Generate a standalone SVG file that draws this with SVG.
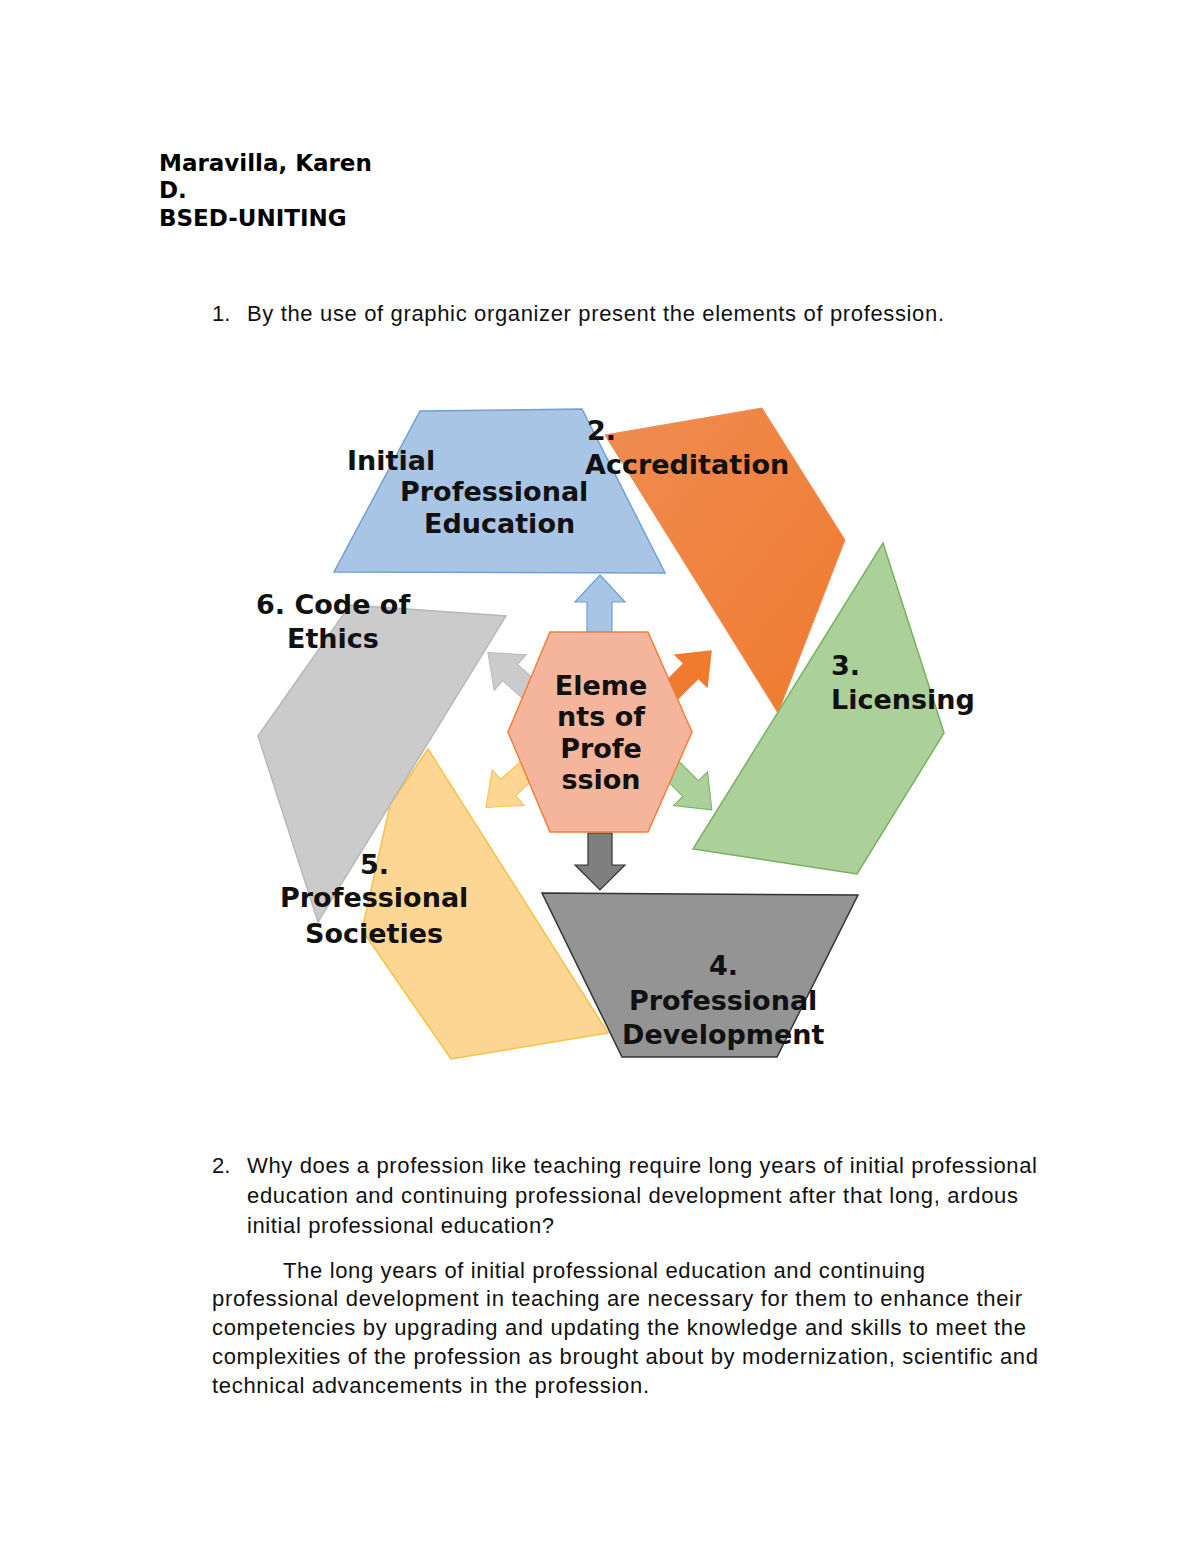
<svg xmlns="http://www.w3.org/2000/svg" width="1200" height="1553" viewBox="0 0 1200 1553">
<defs>
<linearGradient id="og" x1="0" y1="0" x2="1" y2="1"><stop offset="0" stop-color="#ef8c52"/><stop offset="1" stop-color="#f07a2e"/></linearGradient>
</defs>
<style>
.h{font-family:"DejaVu Sans",sans-serif;font-weight:bold;font-size:23px;fill:#000}
.b{font-family:"Liberation Sans",Arial,sans-serif;font-size:22px;fill:#111}
.l{font-family:"DejaVu Sans",sans-serif;font-weight:bold;font-size:27px;fill:#111}
</style>
<rect width="1200" height="1553" fill="#fff"/>
<g id="header">
<text class="h" x="159" y="171">Maravilla, Karen</text>
<text class="h" x="159" y="198">D.</text>
<text class="h" x="159" y="226">BSED-UNITING</text>
<text class="b" x="212" y="321">1.</text>
<text class="b" x="247" y="321" textLength="697">By the use of graphic organizer present the elements of profession.</text>
</g>
<g id="n5"><polygon points="428,749 608,1033 451,1059 362,930 390,805" fill="#fed694" stroke="#f5c242" stroke-width="1.5"/></g>
<g id="n6"><polygon points="350,605 506,616 318,922 258,736" fill="#cbcbcb" stroke="#b8b8b8" stroke-width="1.5"/></g>
<g id="n1"><polygon points="420,411 582,409 665,573 334,572" fill="#a9c5e6" stroke="#6f9fd5" stroke-width="1.5"/></g>
<g id="n2"><polygon points="605,435 762,408 845,540 778,713" fill="url(#og)" stroke="#ef8c52" stroke-width="1"/></g>
<g id="n3"><polygon points="883,543 944,733 857,874 693,849" fill="#acd09a" stroke="#79b060" stroke-width="1.5"/></g>
<g id="n4"><polygon points="542,893 858,895 777,1057 622,1057" fill="#949494" stroke="#333" stroke-width="1.5"/></g>
<g id="connectors">
<polygon points="587,632 587,602 575,602 600,575 625,602 612,602 612,632" fill="#a9c5e6" stroke="#6f9fd5" stroke-width="1.2"/>
<polygon points="588,833 612,833 612,865 625,865 600,890 575,865 588,865" fill="#7f7f7f" stroke="#333" stroke-width="1.2"/>
<g transform="translate(668,694) rotate(-45)"><polygon points="0,-11 32,-11 32,-24 62,0 32,24 32,11 0,11" fill="#f07a2e"/></g>
<g transform="translate(668,766) rotate(45)"><polygon points="0,-11 32,-11 32,-24 62,0 32,24 32,11 0,11" fill="#acd09a" stroke="#79b060"/></g>
<g transform="translate(532,766) rotate(138)"><polygon points="0,-11 32,-11 32,-24 62,0 32,24 32,11 0,11" fill="#fed694" stroke="#f5c242"/></g>
<g transform="translate(534,694) rotate(-138)"><polygon points="0,-11 32,-11 32,-24 62,0 32,24 32,11 0,11" fill="#cbcbcb" stroke="#b8b8b8"/></g>
</g>
<g id="center"><polygon points="550,632 648,632 692,732 648,832 550,832 508,732" fill="#f4b59c" stroke="#f07f3c" stroke-width="1.5"/>
<text class="l" x="601" y="695" text-anchor="middle">Eleme</text>
<text class="l" x="601" y="726" text-anchor="middle">nts of</text>
<text class="l" x="601" y="758" text-anchor="middle">Profe</text>
<text class="l" x="601" y="789" text-anchor="middle">ssion</text>
</g>
<g id="labels">
<text class="l" x="347" y="470">Initial</text>
<text class="l" x="400" y="501">Professional</text>
<text class="l" x="424" y="533">Education</text>
<text class="l" x="587" y="440">2.</text>
<text class="l" x="585" y="474">Accreditation</text>
<text class="l" x="831" y="675">3.</text>
<text class="l" x="831" y="709">Licensing</text>
<text class="l" x="709" y="975">4.</text>
<text class="l" x="629" y="1010">Professional</text>
<text class="l" x="622" y="1044">Development</text>
<text class="l" x="360" y="874">5.</text>
<text class="l" x="280" y="907">Professional</text>
<text class="l" x="305" y="943">Societies</text>
<text class="l" x="256" y="614">6. Code of</text>
<text class="l" x="287" y="648">Ethics</text>
</g>
<g id="body">
<text class="b" x="212" y="1173">2.</text>
<text class="b" x="247" y="1173" textLength="790">Why does a profession like teaching require long years of initial professional</text>
<text class="b" x="247" y="1203" textLength="771">education and continuing professional development after that long, ardous</text>
<text class="b" x="247" y="1233" textLength="307">initial professional education?</text>
<text class="b" x="283" y="1278" textLength="642">The long years of initial professional education and continuing</text>
<text class="b" x="212" y="1306" textLength="810">professional development in teaching are necessary for them to enhance their</text>
<text class="b" x="212" y="1335" textLength="814">competencies by upgrading and updating the knowledge and skills to meet the</text>
<text class="b" x="212" y="1364" textLength="826">complexities of the profession as brought about by modernization, scientific and</text>
<text class="b" x="212" y="1393" textLength="437">technical advancements in the profession.</text>
</g>
</svg>
